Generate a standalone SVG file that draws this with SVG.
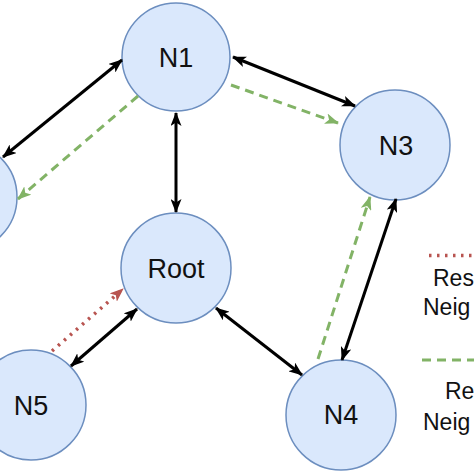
<svg xmlns="http://www.w3.org/2000/svg" width="474" height="474" viewBox="0 0 474 474">
<style>
.node circle{fill:#dae8fc;stroke:#6c8ebf;stroke-width:1.5}
.node text,.lg{font-family:"Liberation Sans",Arial,sans-serif;fill:#111;}
.node text{font-size:27px;text-anchor:middle}
.lg{font-size:23px}
.blk{stroke:#000;stroke-width:3;fill:none;marker-start:url(#ab);marker-end:url(#ab)}
.grn{stroke:#82b366;stroke-width:3;fill:none;stroke-dasharray:9 6;marker-end:url(#ag)}
.red{stroke:#b85450;stroke-width:3.5;fill:none;stroke-dasharray:2.5 5.5;marker-end:url(#ar)}
</style>
<defs>
<marker id="ab" viewBox="0 0 14 11" refX="13" refY="5.5" markerWidth="14" markerHeight="11" orient="auto-start-reverse" markerUnits="userSpaceOnUse"><path d="M0,0 L14,5.5 L0,11 L3.5,5.5 z" fill="#000"/></marker>
<marker id="ag" viewBox="0 0 14 11" refX="13" refY="5.5" markerWidth="14" markerHeight="11" orient="auto" markerUnits="userSpaceOnUse"><path d="M0,0 L14,5.5 L0,11 L3.5,5.5 z" fill="#82b366"/></marker>
<marker id="ar" viewBox="0 0 14 11" refX="13" refY="5.5" markerWidth="14" markerHeight="11" orient="auto" markerUnits="userSpaceOnUse"><path d="M0,0 L14,5.5 L0,11 L3.5,5.5 z" fill="#b85450"/></marker>
</defs>
<rect width="474" height="474" fill="#fff"/>
<g id="n2" class="node"><circle cx="-38" cy="197" r="55"/></g>
<g id="n1" class="node"><circle cx="176" cy="57" r="54"/><text x="176" y="66.5">N1</text></g>
<g id="n3" class="node"><circle cx="395" cy="145" r="55"/><text x="396" y="155">N3</text></g>
<g id="root" class="node"><circle cx="176" cy="268" r="55"/><text x="176" y="277.5">Root</text></g>
<g id="n5" class="node"><circle cx="31" cy="405" r="55"/><text x="31" y="414.5">N5</text></g>
<g id="n4" class="node"><circle cx="341" cy="415" r="55"/><text x="341" y="424">N4</text></g>
<g id="connectors">
<line class="blk" x1="122" y1="60" x2="3" y2="157"/>
<line class="blk" x1="233" y1="57" x2="355" y2="106"/>
<line class="blk" x1="176" y1="113" x2="176" y2="212"/>
<line class="blk" x1="396" y1="199" x2="342" y2="360"/>
<line class="blk" x1="216" y1="308" x2="302" y2="375"/>
<line class="blk" x1="137" y1="309" x2="71" y2="366"/>
<line class="grn" x1="138" y1="96" x2="18" y2="199"/>
<line class="grn" x1="231" y1="85" x2="338" y2="123"/>
<line class="grn" x1="318" y1="359" x2="370" y2="197"/>
<line class="red" x1="52" y1="351" x2="123" y2="289"/>
</g>
<g id="legend">
<line x1="429" y1="255.5" x2="476" y2="255.5" stroke="#b85450" stroke-width="3.5" stroke-dasharray="2.5 5.5"/>
<text class="lg" x="433" y="286">Res</text>
<text class="lg" x="423" y="315">Neig</text>
<line x1="422" y1="360" x2="476" y2="360" stroke="#82b366" stroke-width="3" stroke-dasharray="9 6"/>
<text class="lg" x="445" y="399">Re</text>
<text class="lg" x="423" y="430">Neig</text>
</g>
</svg>
